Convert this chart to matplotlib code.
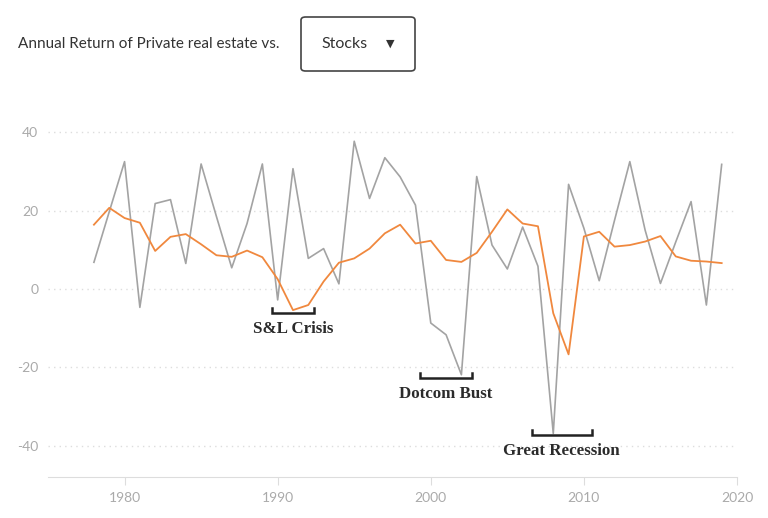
import matplotlib.pyplot as plt
from matplotlib.patches import FancyBboxPatch

plt.rcParams['axes.unicode_minus'] = False

years = list(range(1978, 2020))
stocks = [6.8, 19.7, 32.5, -4.7, 21.8, 22.8, 6.5, 31.9, 18.5, 5.4,
          16.7, 31.9, -2.8, 30.7, 7.8, 10.3, 1.3, 37.7, 23.1, 33.5,
          28.6, 21.4, -8.7, -11.7, -21.9, 28.7, 11.2, 5.1, 15.8, 5.8,
          -36.9, 26.7, 15.5, 2.1, 17.5, 32.5, 15.0, 1.4, 12.0, 22.3,
          -4.1, 31.8]
real_estate = [16.4, 20.7, 18.1, 16.9, 9.7, 13.3, 14.0, 11.4, 8.6, 8.2,
               9.8, 8.1, 2.5, -5.4, -4.1, 1.9, 6.7, 7.8, 10.3, 14.2,
               16.4, 11.6, 12.3, 7.4, 6.9, 9.2, 14.6, 20.3, 16.7, 16.0,
               -6.2, -16.7, 13.4, 14.6, 10.8, 11.2, 12.1, 13.5, 8.3, 7.2,
               7.0, 6.6]

# crisis brackets: label, start year, end year, bracket level
events = ["S&L Crisis", "Dotcom Bust", "Great Recession"]
event_start = [1989.6, 1999.3, 2006.6]
event_end = [1992.4, 2002.7, 2010.5]
event_level = [-6.2, -22.8, -37.2]

x_ticks = [1980, 1990, 2000, 2010, 2020]
y_ticks = [-40, -20, 0, 20, 40]

GRAY = '#a3a3a3'
ORANGE = '#f0883e'
TICK = '#aaaaaa'

fig = plt.figure(figsize=(7.68, 5.18), dpi=100)
ax = fig.add_axes([48 / 768, 1 - 477 / 518, 689 / 768, 362 / 518])

ax.plot(years, stocks, color=GRAY, lw=1.2, zorder=3)
ax.plot(years, real_estate, color=ORANGE, lw=1.3, zorder=4)

for name, s, e, lvl in zip(events, event_start, event_end, event_level):
    ax.plot([s, s, e, e], [lvl + 1.3, lvl, lvl, lvl + 1.3],
            color='#222222', lw=1.8, solid_joinstyle='miter', zorder=5)
    ax.text((s + e) / 2, lvl - 2.0, name, ha='center', va='top',
            fontsize=12.2, fontweight='bold', family='Liberation Serif',
            color='#2b2b2b')

ax.set_xlim(1975, 2020)
ax.set_ylim(-48, 44.4)
ax.set_xticks(x_ticks)
ax.set_yticks(y_ticks)
ax.grid(axis='y', color='#dddddd', linestyle=(0, (1, 3)), lw=1)
for side in ['top', 'right', 'left']:
    ax.spines[side].set_visible(False)
ax.spines['bottom'].set_color('#dddddd')
ax.tick_params(axis='x', length=6, color='#dddddd', colors=TICK,
               labelsize=10, pad=5)
ax.tick_params(axis='y', length=0, colors=TICK, labelsize=10, pad=7)
for lab in ax.get_xticklabels() + ax.get_yticklabels():
    lab.set_family('Lato')
    lab.set_color(TICK)

fig.text(18 / 768, 1 - 44 / 518, "Annual Return of Private real estate vs.",
         fontsize=11, family='Lato', color='#333333', va='center')
box = FancyBboxPatch((301 / 768, 1 - 71 / 518), 114 / 768, 54 / 518,
                     boxstyle='round,pad=0,rounding_size=0.006',
                     transform=fig.transFigure, fill=False,
                     edgecolor='#444444', lw=1.2)
fig.patches.append(box)
fig.text(321 / 768, 1 - 44 / 518, "Stocks", fontsize=11.5, family='Lato',
         color='#333333', va='center')
fig.text(390 / 768, 1 - 44 / 518, "\u25BC", fontsize=8, family='DejaVu Sans',
         color='#333333', va='center', ha='center',
         transform=fig.transFigure)

fig.savefig('out.png', dpi=100)
